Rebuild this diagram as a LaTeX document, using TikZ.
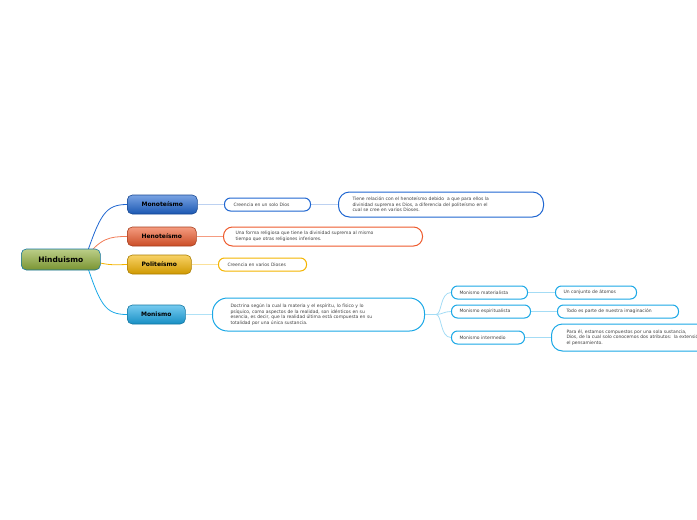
\documentclass[tikz,border=0pt]{standalone}
\usepackage{fontspec}
\setmainfont{DejaVu Sans}
\usetikzlibrary{backgrounds}
\begin{document}
\begin{tikzpicture}[x=1pt,y=-1pt,
 main/.style={rounded corners=5pt,draw=#1!70!black,line width=0.6pt,top color=#1!60!white,bottom color=#1!85!black,font=\fontsize{6}{7}\selectfont\bfseries,inner sep=0pt,minimum height=19pt,anchor=west},
 sub/.style 2 args={rounded corners=#2,draw=#1,line width=1pt,fill=white,font=\fontsize{4.5}{5.6}\selectfont,inner ysep=0pt,anchor=west,align=left,text=black!75},
 lnk/.style={draw=#1,line width=0.8pt}]
\useasboundingbox (0,0) rectangle (697,520);
\definecolor{cblue}{HTML}{1F66D1}
\definecolor{cred}{HTML}{EE5A2C}
\definecolor{cyel}{HTML}{F4B400}
\definecolor{clb}{HTML}{1BA8E6}
\definecolor{cgr}{HTML}{8FAE3A}
% nodes
\node[main=cgr,minimum width=79pt,minimum height=21pt,draw=clb!70!black,font=\fontsize{7.5}{8}\selectfont\bfseries] (h) at (21,259.5) {Hinduismo};
\node[main=cblue,minimum width=70pt] (mo) at (127,204.5) {Monoteísmo};
\node[main=cred,minimum width=69pt] (he) at (127,236.5) {Henoteísmo};
\node[main=cyel,minimum width=64pt] (po) at (127,264.5) {Politeísmo};
\node[main=clb,minimum width=58pt] (mn) at (127,314.5) {Monismo};
\node[sub={cblue}{6pt},inner xsep=9pt,text width=68pt,minimum height=13pt] (a1) at (224,204.5) {Creencia en un solo Dios};
\node[sub={cblue}{11pt},inner xsep=14pt,text width=177pt,minimum height=25pt] (a2) at (338,204.5) {Tiene relación con el henoteísmo debido\ \ a que para ellos la\\ divinidad suprema es Dios, a diferencia del politeísmo en el\\ cual se cree en varios Dioses.};
\node[sub={cred}{9pt},inner xsep=12pt,text width=175pt,minimum height=19pt] (b1) at (223,236.5) {Una forma religiosa que tiene la divinidad suprema al mismo\\ tiempo que otras religiones inferiores.};
\node[sub={cyel}{6pt},inner xsep=9pt,text width=70pt,minimum height=13pt] (c1) at (218,264.5) {Creencia en varios Dioses};
\node[sub={clb}{15pt},inner xsep=18pt,text width=176pt,minimum height=33pt] (d1) at (212,314.5) {Doctrina según la cual la materia y el espíritu, lo físico y lo\\ psíquico, como aspectos de la realidad, son idénticos en su\\ esencia, es decir, que la realidad última está compuesta en su\\ totalidad por una única sustancia.};
\node[sub={clb}{6pt},inner xsep=8pt,text width=60pt,minimum height=13pt] (e1) at (451,292.5) {Monismo materialista};
\node[sub={clb}{6pt},inner xsep=8pt,text width=63pt,minimum height=13pt] (e2) at (451,311.5) {Monismo espiritualista};
\node[sub={clb}{6pt},inner xsep=8pt,text width=57pt,minimum height=13pt] (e3) at (451,337.5) {Monismo intermedio};
\node[sub={clb}{6pt},inner xsep=8pt,text width=65pt,minimum height=13pt] (f1) at (555,292.5) {Un conjunto de átomos};
\node[sub={clb}{6pt},inner xsep=9pt,text width=103pt,minimum height=13pt] (f2) at (557,311.5) {Todo es parte de nuestra imaginación};
\node[sub={clb}{11pt},inner xsep=15pt,text width=160pt,minimum height=27pt] (f3) at (551,337.5) {Para él, estamos compuestos por una sola sustancia,\\ Dios, de la cual solo conocemos dos atributos: la extensión y\\ el pensamiento.};
% connectors
\begin{pgfonlayer}{background}
\draw[lnk=cblue] (85,259) .. controls (100,215) and (105,204.5) .. (mo.west);
\draw[lnk=cred!80] (85,259) .. controls (100,238) and (110,236.5) .. (he.west);
\draw[lnk=cyel] (95,262) .. controls (110,265) .. (po.west);
\draw[lnk=clb] (85,259) .. controls (100,305) and (105,314.5) .. (mn.west);
\draw[line width=1.2pt,cblue!30] (mo.east) -- (a1.west);
\draw[line width=1.2pt,cblue!30] (a1.east) -- (a2.west);
\draw[line width=0.8pt,cred!60] (he.east) -- (b1.west);
\draw[line width=1pt,cyel!40] (po.east) -- (c1.west);
\draw[line width=1.2pt,clb!35] (mn.east) -- (d1.west);
\draw[line width=0.8pt,clb!40] (d1.east) -- (436,314.5);
\draw[line width=0.8pt,clb!40] (436,314.5) .. controls (442,314.5) and (440,292.5) .. (e1.west);
\draw[line width=0.8pt,clb!40] (436,314.5) .. controls (442,314.5) and (444,311.5) .. (e2.west);
\draw[line width=0.8pt,clb!40] (436,314.5) .. controls (442,314.5) and (440,337.5) .. (e3.west);
\draw[line width=1pt,clb!40] (e1.east) -- (f1.west);
\draw[line width=1pt,clb!40] (e2.east) -- (f2.west);
\draw[line width=1pt,clb!40] (e3.east) -- (f3.west);
\end{pgfonlayer}
\end{tikzpicture}
\end{document}
